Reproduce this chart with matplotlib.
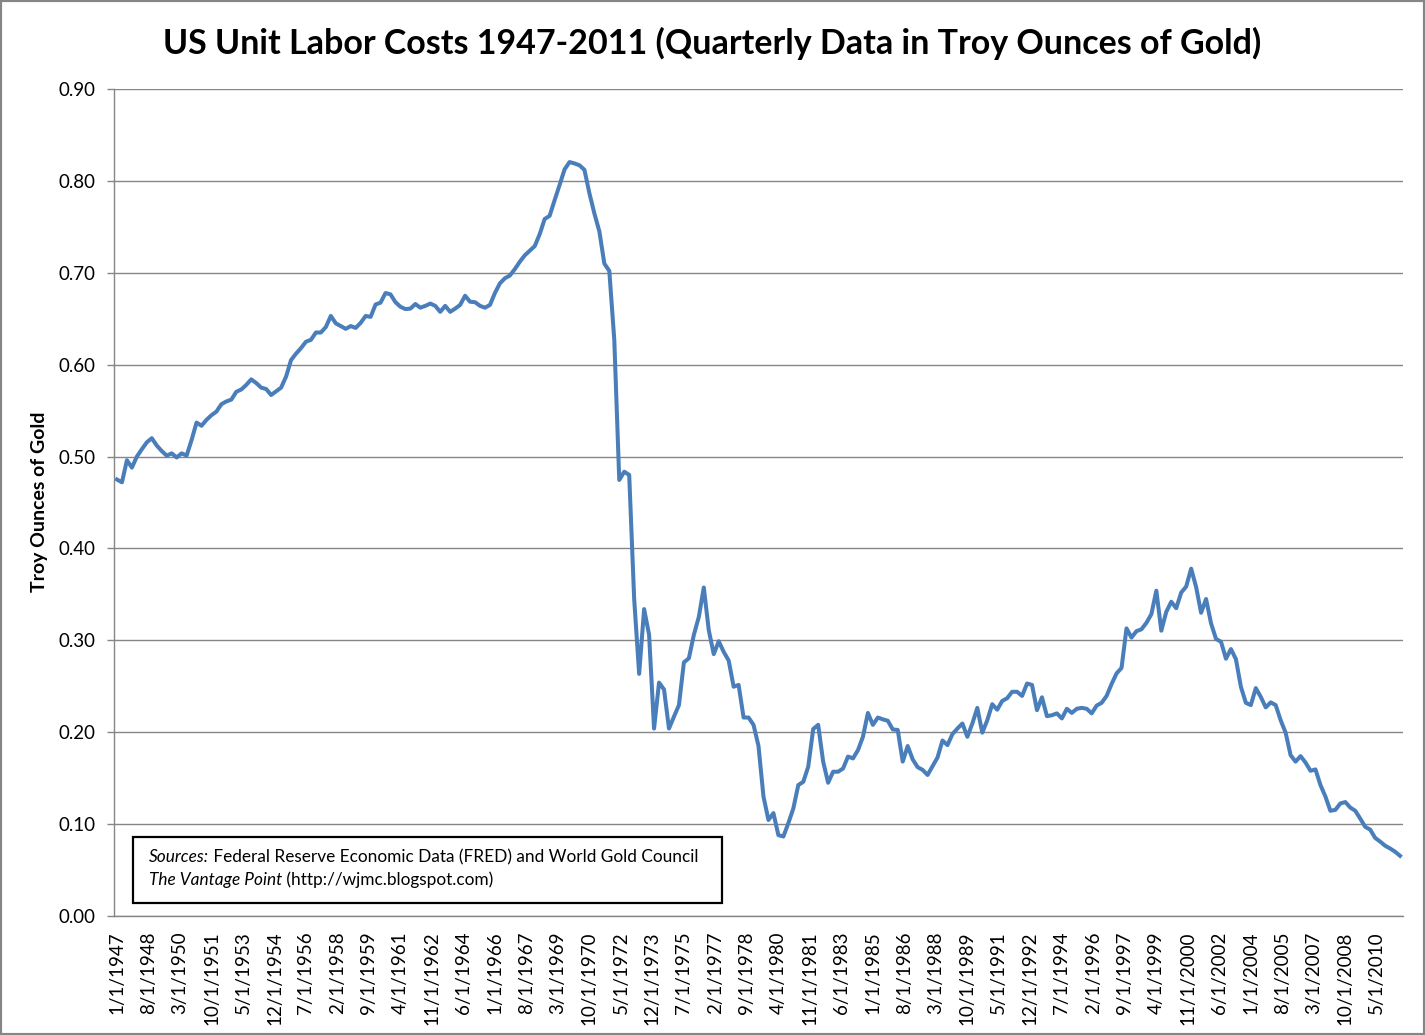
import matplotlib
matplotlib.use("Agg")
import matplotlib.pyplot as plt
from matplotlib.patches import Rectangle

# ---------------- data ----------------
# Quarterly values (troy ounces of gold), 1947Q1 .. 2011Q3
ulc_gold = [
    0.475, 0.472, 0.496, 0.488, 0.500, 0.508, 0.5155, 0.520, 0.512, 0.506,
    0.501, 0.5035, 0.499, 0.5035, 0.501, 0.518, 0.537, 0.5335, 0.540, 0.545,
    0.549, 0.557, 0.560, 0.562, 0.5705, 0.573, 0.578, 0.584, 0.580, 0.575,
    0.5735, 0.567, 0.571, 0.575, 0.587, 0.605, 0.612, 0.618, 0.625, 0.627,
    0.635, 0.635, 0.641, 0.653, 0.645, 0.642, 0.639, 0.642, 0.640, 0.6455,
    0.653, 0.652, 0.6655, 0.6675, 0.678, 0.6765, 0.668, 0.663, 0.6605, 0.661,
    0.666, 0.662, 0.664, 0.6665, 0.664, 0.6575, 0.664, 0.6575, 0.661, 0.665,
    0.675, 0.6685, 0.668, 0.664, 0.662, 0.665, 0.678, 0.6885, 0.694, 0.697,
    0.704, 0.712, 0.719, 0.724, 0.729, 0.742, 0.7585, 0.762, 0.779, 0.7955,
    0.8125, 0.8205, 0.819, 0.817, 0.812, 0.7865, 0.7645, 0.745, 0.710, 0.702,
    0.627, 0.4745, 0.4835, 0.480, 0.345, 0.2635, 0.334, 0.306, 0.204, 0.254,
    0.2465, 0.204, 0.217, 0.2295, 0.276, 0.2805, 0.306, 0.3255, 0.3575, 0.311,
    0.285, 0.299, 0.2875, 0.278, 0.2495, 0.2515, 0.216, 0.216, 0.208, 0.185,
    0.130, 0.1045, 0.112, 0.088, 0.0865, 0.101, 0.117, 0.1425, 0.146, 0.1625,
    0.2035, 0.208, 0.168, 0.145, 0.157, 0.157, 0.1605, 0.1735, 0.1715, 0.1805,
    0.195, 0.221, 0.208, 0.216, 0.214, 0.2125, 0.203, 0.2025, 0.168, 0.185,
    0.1705, 0.162, 0.159, 0.1535, 0.163, 0.1725, 0.191, 0.186, 0.198, 0.204,
    0.2095, 0.195, 0.2095, 0.2265, 0.1995, 0.213, 0.2305, 0.2245, 0.234, 0.237,
    0.244, 0.244, 0.2395, 0.253, 0.2515, 0.224, 0.238, 0.2175, 0.2185, 0.2205,
    0.215, 0.2255, 0.221, 0.2255, 0.2265, 0.2255, 0.2205, 0.229, 0.232, 0.2395,
    0.2525, 0.264, 0.270, 0.313, 0.303, 0.310, 0.312, 0.319, 0.3285, 0.354,
    0.3105, 0.331, 0.342, 0.335, 0.352, 0.3585, 0.378, 0.358, 0.330, 0.345,
    0.3185, 0.3015, 0.2985, 0.280, 0.2905, 0.2795, 0.2495, 0.232, 0.2295, 0.248,
    0.2385, 0.227, 0.2325, 0.2295, 0.213, 0.1995, 0.175, 0.168, 0.174, 0.167,
    0.158, 0.1595, 0.1425, 0.130, 0.1145, 0.1155, 0.1225, 0.124, 0.118, 0.1145,
    0.106, 0.097, 0.094, 0.085, 0.081, 0.0765, 0.0735, 0.070, 0.0655,
]
# months since 1/1/1947 for each quarterly observation
months = [3 * i for i in range(len(ulc_gold))]

tick_labels = [
    "1/1/1947", "8/1/1948", "3/1/1950", "10/1/1951", "5/1/1953", "12/1/1954",
    "7/1/1956", "2/1/1958", "9/1/1959", "4/1/1961", "11/1/1962", "6/1/1964",
    "1/1/1966", "8/1/1967", "3/1/1969", "10/1/1970", "5/1/1972", "12/1/1973",
    "7/1/1975", "2/1/1977", "9/1/1978", "4/1/1980", "11/1/1981", "6/1/1983",
    "1/1/1985", "8/1/1986", "3/1/1988", "10/1/1989", "5/1/1991", "12/1/1992",
    "7/1/1994", "2/1/1996", "9/1/1997", "4/1/1999", "11/1/2000", "6/1/2002",
    "1/1/2004", "8/1/2005", "3/1/2007", "10/1/2008", "5/1/2010",
]
tick_months = [19 * k for k in range(len(tick_labels))]
y_ticks = [0.0, 0.1, 0.2, 0.3, 0.4, 0.5, 0.6, 0.7, 0.8, 0.9]

title = "US Unit Labor Costs 1947-2011 (Quarterly Data in Troy Ounces of Gold)"
ylabel = "Troy Ounces of Gold"

# ---------------- figure ----------------
FONT = ["Lato", "DejaVu Sans"]
plt.rcParams["font.family"] = FONT
W, H = 1425, 1035
fig = plt.figure(figsize=(W / 100, H / 100), dpi=100)
fig.patch.set_facecolor("white")

L, R, T, B = 114, 1403, 89, 916
ax = fig.add_axes([L / W, 1 - B / H, (R - L) / W, (B - T) / H])
GRAY = "#868686"

ax.plot(months, ulc_gold, color="#4A7EBB", lw=2.9, solid_joinstyle="round")

ax.set_xlim(-1.8, 775.8)
ax.set_ylim(0, 0.9)
ax.set_yticks(y_ticks)
ax.set_yticklabels([f"{v:.2f}" for v in y_ticks])
ax.set_xticks(tick_months)
ax.set_xticklabels(tick_labels, rotation=90, va="top", ha="center")

ax.grid(axis="y", color=GRAY, lw=1)
ax.set_axisbelow(True)
for s in ["top", "right"]:
    ax.spines[s].set_visible(False)
for s in ["left", "bottom"]:
    ax.spines[s].set_color(GRAY)
    ax.spines[s].set_linewidth(1)
ax.tick_params(axis="y", length=5, width=1, color=GRAY, pad=8, labelsize=13.5,
               labelcolor="black")
ax.tick_params(axis="x", length=0, pad=11, labelsize=13.5, labelcolor="black")

fig.text(712 / W, 1 - 43 / H, title, ha="center", va="center", fontsize=24.5,
         fontweight="bold")
fig.text(40 / W, 1 - 502 / H, ylabel, rotation=90, ha="center", va="center",
         fontsize=14, fontweight="bold")

# source box
bx0, bx1, by0, by1 = 133, 722, 837, 903
fig.patches.append(Rectangle((bx0 / W, 1 - by1 / H), (bx1 - bx0) / W,
                             (by1 - by0) / H, transform=fig.transFigure,
                             fill=False, edgecolor="black", lw=1.6))
renderer = fig.canvas.get_renderer()
lines = [("Sources:", " Federal Reserve Economic Data (FRED) and World Gold Council", 857),
         ("The Vantage Point", " (http://wjmc.blogspot.com)", 880)]
for ital, rest, yc in lines:
    t1 = fig.text(149 / W, 1 - yc / H, ital, style="italic", fontsize=12.4,
                  ha="left", va="center")
    ext = t1.get_window_extent(renderer=renderer)
    fig.text(ext.x1 / W, 1 - yc / H, rest, fontsize=12.4, ha="left", va="center")

# outer chart border
fig.patches.append(Rectangle((0, 0), 1, 1, transform=fig.transFigure,
                             fill=False, edgecolor=GRAY, lw=3))

fig.savefig("out.png", dpi=100)
